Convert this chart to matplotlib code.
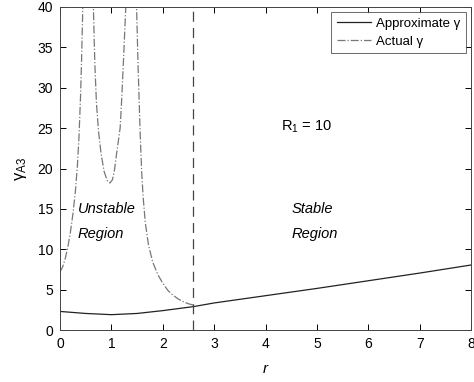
import numpy as np
import matplotlib.pyplot as plt

plt.rcParams['font.family'] = ['Liberation Sans', 'DejaVu Sans']
plt.rcParams['mathtext.fontset'] = 'custom'
plt.rcParams['mathtext.rm'] = 'Liberation Sans'
plt.rcParams['mathtext.it'] = 'Liberation Sans:italic'

# approximate gamma (solid)
r_approx = [0, 0.5, 1.0, 1.5, 2.0, 2.6, 3, 4, 5, 6, 7, 8]
g_approx = [2.3, 2.05, 1.9, 2.05, 2.4, 2.9, 3.35, 4.25, 5.15, 6.1, 7.05, 8.05]

# actual gamma (dash-dot), three branches in the unstable region
r_act1 = [0, 0.05, 0.1, 0.15, 0.2, 0.25, 0.3, 0.34, 0.37, 0.40, 0.42, 0.44, 0.45]
g_act1 = [7.2, 7.8, 8.8, 10.2, 12.0, 14.3, 17.2, 20.5, 24.0, 29.0, 33.5, 39.0, 42.0]
r_act2 = [0.64, 0.65, 0.665, 0.68, 0.71, 0.75, 0.80, 0.86, 0.92, 0.97, 1.02, 1.06,
          1.10, 1.14, 1.17, 1.20, 1.23, 1.26, 1.28, 1.30]
g_act2 = [43.0, 40.0, 36.0, 32.6, 28.0, 24.6, 21.8, 19.6, 18.5, 18.2, 18.6, 19.8,
          21.8, 23.6, 25.0, 28.5, 32.6, 37.0, 40.0, 44.0]
r_act3 = [1.47, 1.49, 1.52, 1.56, 1.59, 1.62, 1.66, 1.72, 1.80, 1.90, 2.0, 2.1,
          2.2, 2.3, 2.4, 2.5, 2.59]
g_act3 = [44.0, 40.0, 32.6, 24.4, 19.5, 16.3, 13.3, 10.6, 8.5, 6.9, 5.8, 4.9,
          4.3, 3.85, 3.5, 3.25, 3.1]
r_crit = 2.59

fig = plt.figure(figsize=(4.74, 3.82), dpi=100)
ax = fig.add_axes([0.1266, 0.1361, 0.8671, 0.8456])

ax.plot(r_approx, g_approx, color='#222222', lw=0.9, label='Approximate γ')
ax.plot(r_act1, g_act1, color='#777777', lw=0.9, ls='-.', label='Actual γ')
ax.plot(r_act2, g_act2, color='#777777', lw=0.9, ls='-.')
ax.plot(r_act3, g_act3, color='#777777', lw=0.9, ls='-.')
ax.axvline(r_crit, color='#444444', lw=0.9, ls=(0, (8, 5)))

ax.set_xlim(0, 8)
ax.set_ylim(0, 40)
ax.set_xticks(range(0, 9))
ax.set_yticks(range(0, 41, 5))
ax.tick_params(direction='in', top=True, right=True, labelsize=10, length=4, width=0.7, pad=5)
for s in ax.spines.values():
    s.set_linewidth(0.7)
    s.set_color('#444444')

ax.set_xlabel('r', style='italic', fontsize=11, labelpad=8)
ax.set_ylabel(r'γ$_{\mathrm{A3}}$', fontsize=12, labelpad=6)

ax.text(0.35, 15, 'Unstable', style='italic', fontsize=10.5, va='center')
ax.text(0.35, 11.9, 'Region', style='italic', fontsize=10.5, va='center')
ax.text(4.5, 15, 'Stable', style='italic', fontsize=10.5, va='center')
ax.text(4.5, 11.9, 'Region', style='italic', fontsize=10.5, va='center')
ax.text(4.3, 25.2, r'R$_1$ = 10', fontsize=10.5, va='center')

leg = ax.legend(loc='upper right', fontsize=9.5, fancybox=False, edgecolor='#444444',
                borderpad=0.4, labelspacing=0.45, handlelength=2.6, handletextpad=0.4,
                borderaxespad=0.4)
leg.get_frame().set_linewidth(0.7)

plt.savefig('out.png', dpi=100)
